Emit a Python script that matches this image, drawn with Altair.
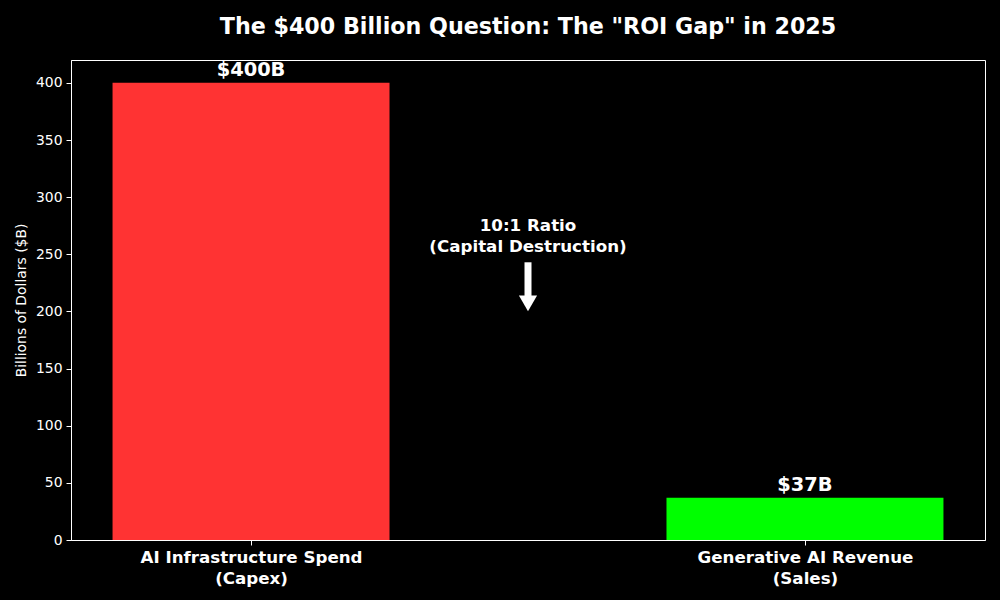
import altair as alt
import pandas as pd

# Categories, positions and values
categories = ["AI Infrastructure Spend\n(Capex)", "Generative AI Revenue\n(Sales)"]
positions = [0, 1]
values = [400, 37]
value_labels = ["$400B", "$37B"]
bar_colors = ["#ff3333", "#00ff00"]

# Annotation between the bars
note_lines = ["10:1 Ratio", "(Capital Destruction)"]
note_x = 0.5
note_text_y = 250
arrow_start_y = 243
arrow_end_y = 200

half_width = 0.25

bars_df = pd.DataFrame({
    "category": categories,
    "pos": positions,
    "value": values,
    "label": value_labels,
    "color": bar_colors,
})
bars_df["x0"] = bars_df["pos"] - half_width
bars_df["x1"] = bars_df["pos"] + half_width

x_scale = alt.Scale(domain=[-0.325, 1.325], nice=False, zero=False, padding=0)
y_scale = alt.Scale(domain=[0, 420], nice=False, padding=0)

label_expr = (
    "datum.value == 0 ? ['AI Infrastructure Spend', '(Capex)'] : "
    "['Generative AI Revenue', '(Sales)']"
)

bars = alt.Chart(bars_df).mark_bar(opacity=1).encode(
    x=alt.X(
        "x0:Q",
        scale=x_scale,
        axis=alt.Axis(
            values=positions,
            labelExpr=label_expr,
            title=None,
            grid=False,
            labelFont="DejaVu Sans",
            labelFontSize=16.7,
            labelFontWeight="bold",
            labelColor="white",
            labelLineHeight=21,
            labelPadding=4,
            labelLimit=0,
            tickColor="white",
            tickSize=5,
            domainColor="white",
        ),
    ),
    x2="x1:Q",
    y=alt.Y(
        "value:Q",
        scale=y_scale,
        axis=alt.Axis(
            values=list(range(0, 401, 50)),
            title="Billions of Dollars ($B)",
            titleFont="DejaVu Sans",
            titleFontSize=13.9,
            titleFontWeight="normal",
            titleColor="white",
            titlePadding=7,
            labelFont="DejaVu Sans",
            labelFontSize=13.9,
            labelColor="white",
            labelPadding=4,
            tickColor="white",
            tickSize=5,
            domainColor="white",
            grid=False,
        ),
    ),
    y2=alt.datum(0),
    color=alt.Color("color:N", scale=None),
)

bar_text = alt.Chart(bars_df).mark_text(
    font="DejaVu Sans", fontSize=19.4, fontWeight="bold", color="white",
    baseline="bottom", dy=-3,
).encode(
    x=alt.X("pos:Q", scale=x_scale),
    y=alt.Y("value:Q", scale=y_scale),
    text="label:N",
)

note_df = pd.DataFrame({"x": [note_x], "y": [note_text_y], "t": [note_lines]})
note = alt.Chart(note_df).mark_text(
    font="DejaVu Sans", fontSize=16.7, fontWeight="bold", color="white",
    baseline="bottom", lineHeight=21, dy=-19,
).encode(
    x=alt.X("x:Q", scale=x_scale),
    y=alt.Y("y:Q", scale=y_scale),
    text="t",
)

arrow_df = pd.DataFrame({"x": [note_x], "y0": [arrow_start_y], "y1": [arrow_end_y + 12]})
shaft = alt.Chart(arrow_df).mark_rule(color="white", strokeWidth=7).encode(
    x=alt.X("x:Q", scale=x_scale),
    y=alt.Y("y0:Q", scale=y_scale),
    y2="y1:Q",
)
head_df = pd.DataFrame({"x": [note_x], "y": [arrow_end_y + 7]})
head = alt.Chart(head_df).mark_point(
    shape="triangle-down", filled=True, color="white", opacity=1, size=330,
).encode(
    x=alt.X("x:Q", scale=x_scale),
    y=alt.Y("y:Q", scale=y_scale),
)

chart = alt.layer(bars, bar_text, note, shaft, head).properties(
    width=914,
    height=480,
    background="black",
    padding={"left": 71, "top": 60, "right": 15, "bottom": 60},
    autosize=alt.AutoSizeParams(type="none"),
    title=alt.TitleParams(
        'The $400 Billion Question: The "ROI Gap" in 2025',
        font="DejaVu Sans",
        fontSize=22.2,
        fontWeight="bold",
        color="white",
        anchor="middle",
        offset=22,
    ),
).configure_view(stroke="white", strokeWidth=1)

chart.save("out.html", embed_options={"renderer": "svg", "actions": False})
